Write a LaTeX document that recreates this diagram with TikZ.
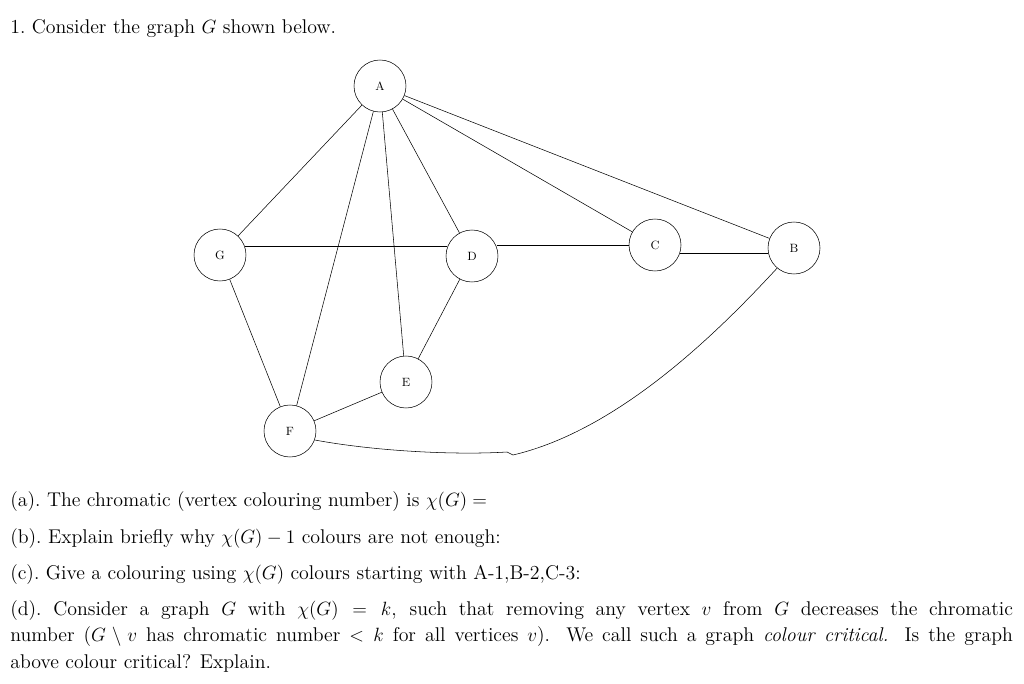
\documentclass[tikz,border=0pt]{standalone}
\usepackage{amsmath}
\begin{document}
\begin{tikzpicture}[x=0.75pt,y=-0.75pt,
  vert/.style={circle,draw,thin,minimum size=39pt,inner sep=0pt,font=\fontsize{9}{10}\selectfont},
  edge/.style={thin},
  txt/.style={anchor=west,inner sep=0pt,font=\fontsize{14.9}{20}\selectfont}]
\useasboundingbox (0,0) rectangle (1024,684);
\node[vert] (A) at (380,86) {A};
\node[vert] (G) at (220,255) {G};
\node[vert] (D) at (472,256) {D};
\node[vert] (C) at (655,245) {C};
\node[vert] (B) at (794,248) {B};
\node[vert] (E) at (406,382) {E};
\node[vert] (F) at (290,431) {F};
\foreach \a/\b in {A/G,A/F,A/E,A/D,A/C,A/B,G/F,F/E,E/D}
  \draw[edge] (\a) -- (\b);
\coordinate (GD1) at (245,246);
\coordinate (GD2) at (447,246);
\draw[edge] (GD1) -- (GD2);
\coordinate (DC1) at (497,245);
\draw[edge] (DC1) -- (C.west);
\coordinate (CB1) at (680,253);
\coordinate (CB2) at (768,253);
\draw[edge] (CB1) -- (CB2);
\coordinate (K) at (513,455);
\draw[edge] (F.-20) .. controls (380,452) and (460,455) .. (507,452) -- (K) .. controls (620,430) and (720,330) .. (B.-130);
\node[txt] (t1) at (10,29) {1.\ Consider the graph $G$ shown below.};
\node[txt] (ta) at (10,502) {(a).\ The chromatic (vertex colouring number) is $\chi(G)=$};
\node[txt] (tb) at (10,539) {(b).\ Explain briefly why $\chi(G)-1$ colours are not enough:};
\node[txt] (tc) at (10,575) {(c).\ Give a colouring using $\chi(G)$ colours starting with A-1,B-2,C-3:};
\node[anchor=north west,inner sep=0pt,font=\fontsize{14.9}{20}\selectfont,text width=752pt,align=justify] (td) at (10,600)
 {(d).\ Consider a graph $G$ with $\chi(G)=k$, such that removing any vertex $v$ from $G$ decreases the chromatic\linebreak number ($G\setminus v$ has chromatic number $<k$ for all vertices $v$). We call such a graph \emph{colour critical.} Is the graph\linebreak above colour critical? Explain.};
\end{tikzpicture}
\end{document}
